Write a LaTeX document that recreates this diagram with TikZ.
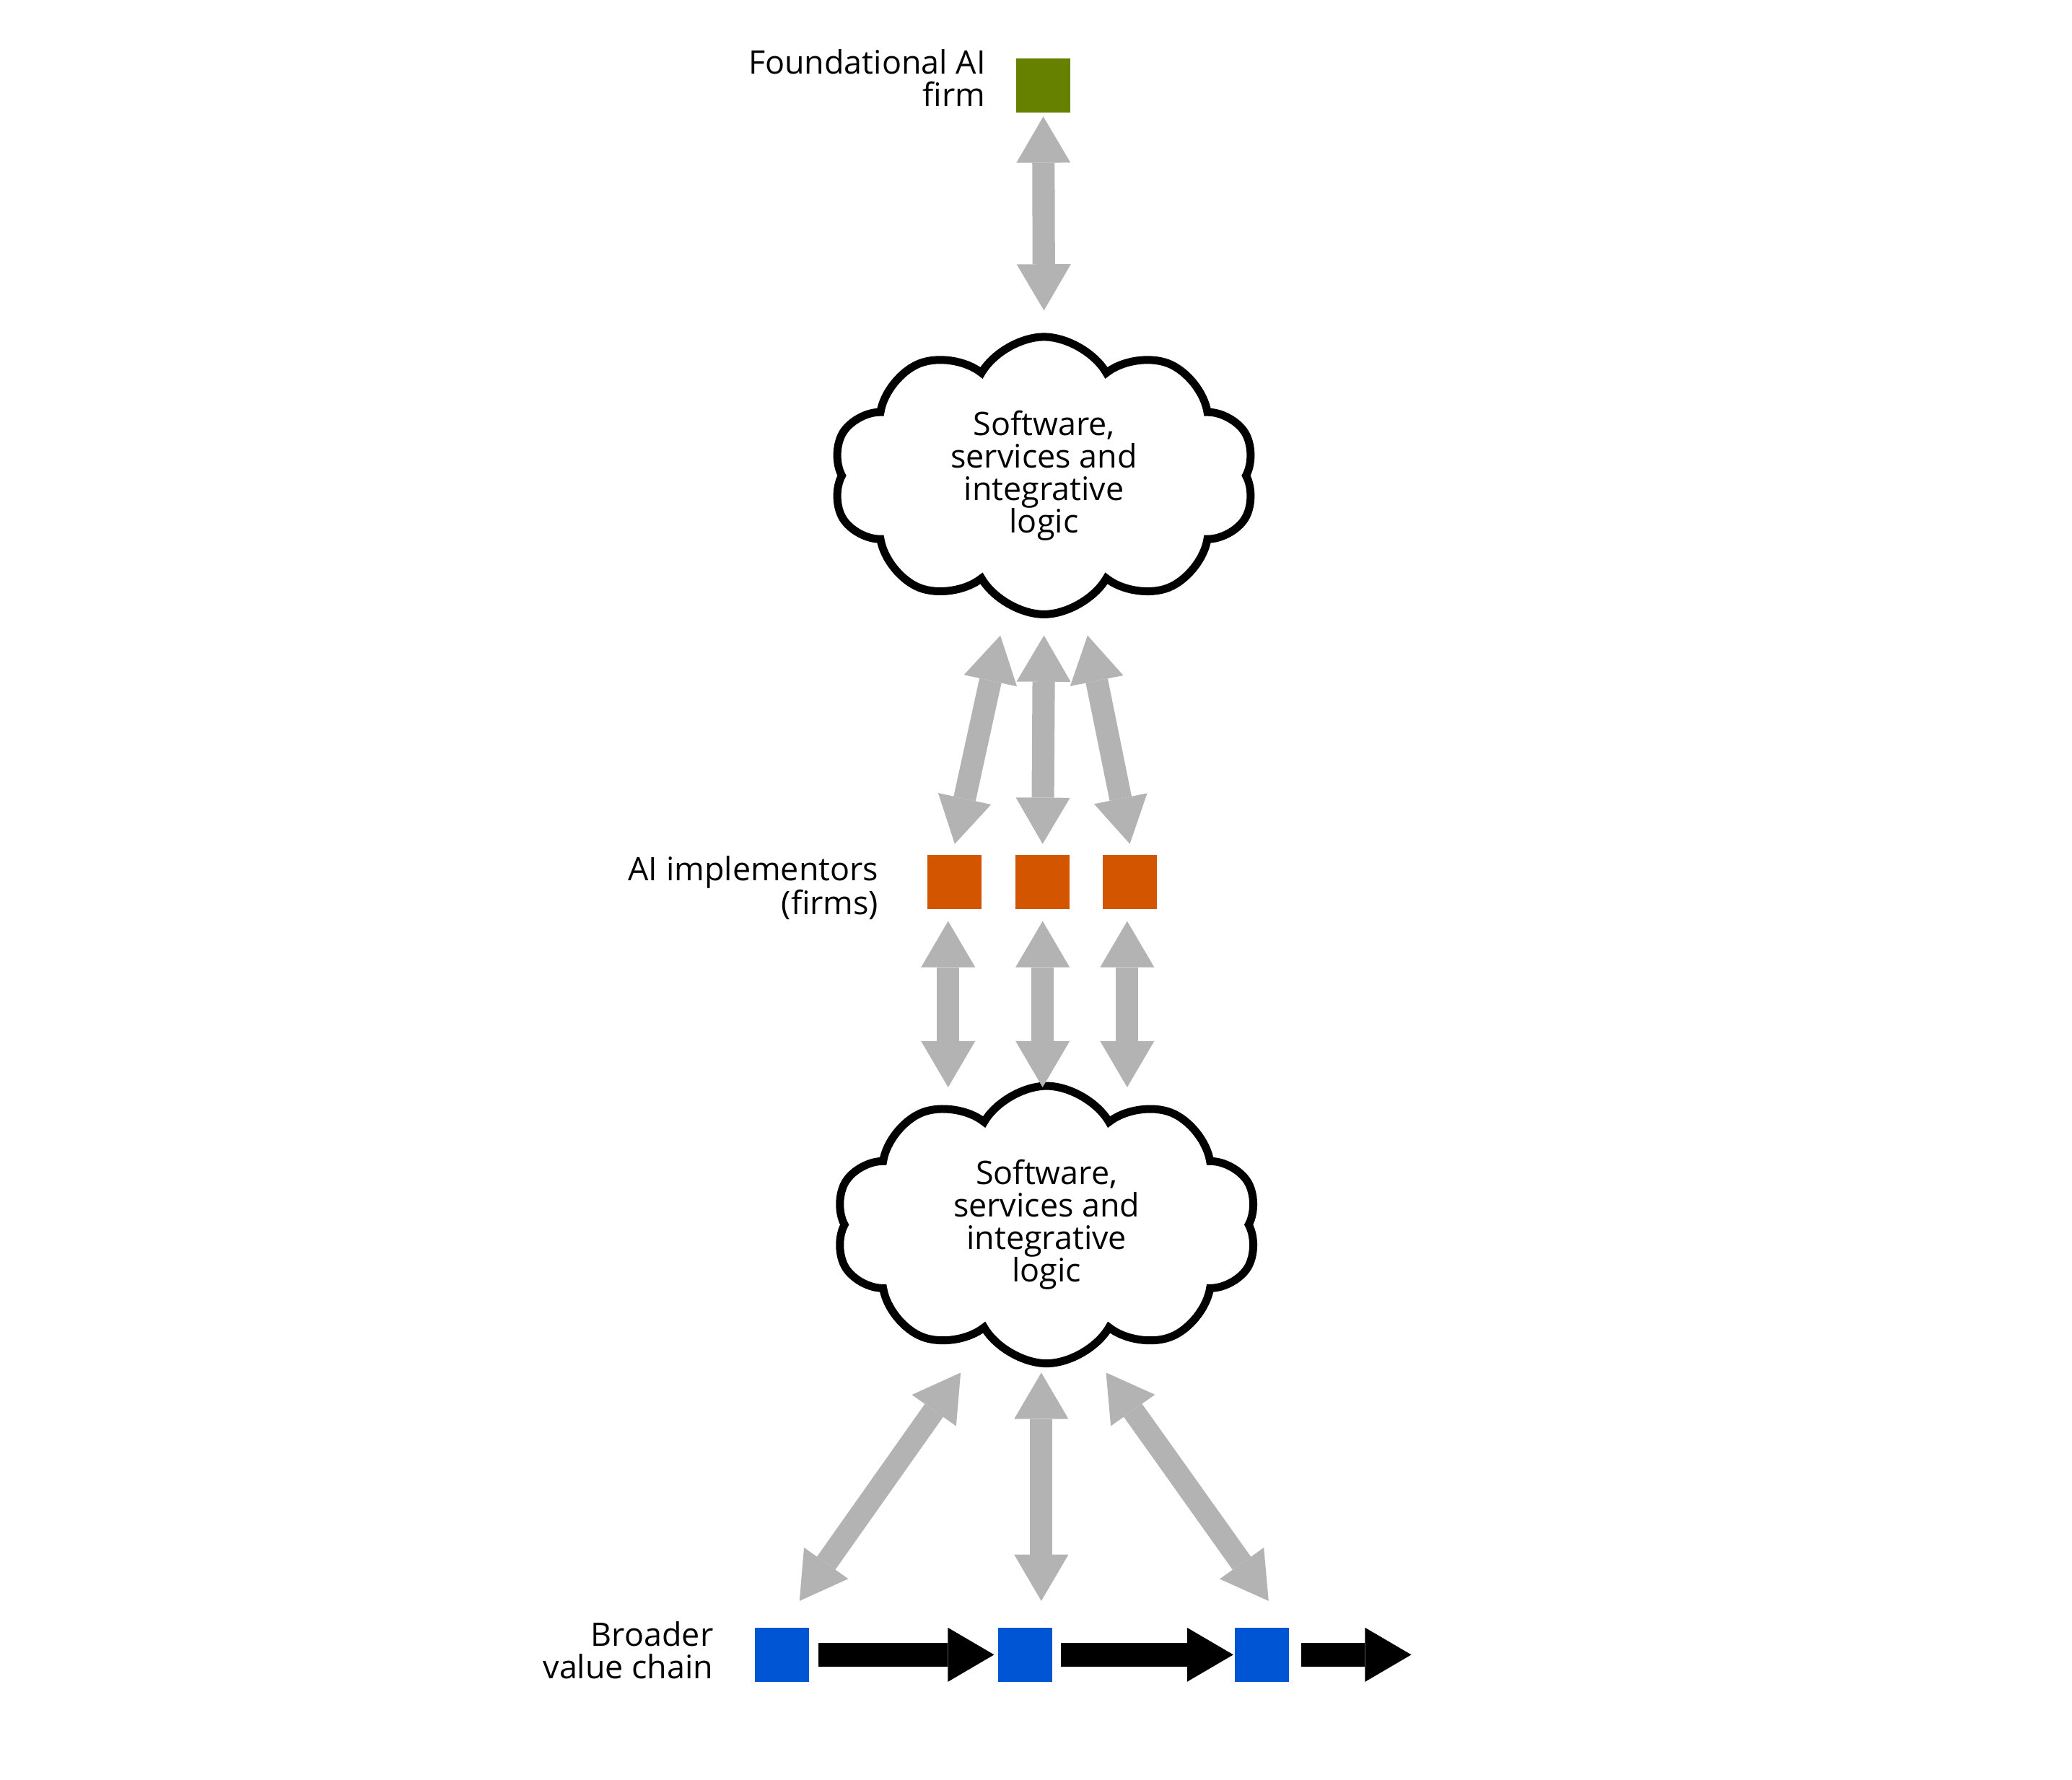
\documentclass[tikz,border=0pt]{standalone}
\usepackage{fontspec}
\setmainfont{Open Sans}
\usetikzlibrary{shapes.symbols,arrows.meta,positioning}

\definecolor{firmgreen}{HTML}{668000}
\definecolor{implorange}{HTML}{D45500}
\definecolor{chainblue}{HTML}{0055D4}
\definecolor{linkgray}{HTML}{B3B3B3}

\tikzset{
  sq/.style={rectangle,minimum size=41pt,inner sep=0pt},
  softcloud/.style={cloud,cloud puffs=10,cloud puff arc=120,draw,line width=6pt,
    minimum width=320pt,minimum height=210pt,align=center,inner xsep=-8pt,inner ysep=-9pt,
    font=\fontsize{24.5}{24.5}\selectfont},
  lbl/.style={align=right,anchor=east,inner sep=0pt,font=\fontsize{24.5}{24.5}\selectfont},
  link/.style={linkgray,line width=17pt,
    {Triangle[width=41pt,length=35pt,line width=0pt]}-{Triangle[width=41pt,length=35pt,line width=0pt]}},
  flow/.style={black,line width=18pt,-{Triangle[width=41pt,length=35pt,line width=0pt]}}
}

\begin{document}
\begin{tikzpicture}[x=1pt,y=-1pt]
  \useasboundingbox (0,0) rectangle (1568,1347);

  % foundational firm
  \node[sq,fill=firmgreen] (fm) at (789.5,64.5) {};
  \node[lbl] (fmlbl) at (746,59) {Foundational AI\\firm};

  \node[softcloud] (sw1) at (790,360) {Software,\\services and\\integrative\\logic};

  % implementors
  \foreach \x [count=\i] in {722.5,789,855}
    \node[sq,fill=implorange] (im\i) at (\x,667.5) {};
  \node[lbl] (imlbl) at (665,672) {AI implementors\\(firms)};

  \node[softcloud] (sw2) at (792,927) {Software,\\services and\\integrative\\logic};

  % value chain
  \foreach \x [count=\i] in {591.5,776,955}
    \node[sq,fill=chainblue] (vc\i) at (\x,1252.5) {};
  \node[lbl] (vclbl) at (540,1249) {Broader\\value chain};
  \coordinate (vcend) at (1068,1252.5);

  % links
  \draw[link] ([yshift=-3pt]fm.south) -- ([yshift=17pt]sw1.north);
  \foreach \i/\dx in {1/-33,2/0,3/33}
    \draw[link] ([xshift=\dx pt,yshift=-13pt]sw1.south) -- ([yshift=8pt]im\i.north);
  \foreach \i/\dx in {1/-5,2/0,3/-2}
    \draw[link,shorten <=9pt,shorten >=-4pt] ([xshift=\dx pt]im\i.south)
      -- ([xshift=\dx pt]im\i.south |- sw2.north);
  \foreach \i/\dx/\ex in {1/-65/13.5,2/-4/12,3/45/5}
    \draw[link] ([xshift=\dx pt,yshift=-4pt]sw2.south) -- ([xshift=\ex pt,yshift=20pt]vc\i.north);

  % chain flow
  \draw[flow,shorten <=7pt,shorten >=3pt] (vc1) -- (vc2);
  \draw[flow,shorten <=6pt,shorten >=1pt] (vc2) -- (vc3);
  \draw[flow,shorten <=9pt] (vc3) -- (vcend);
\end{tikzpicture}
\end{document}
